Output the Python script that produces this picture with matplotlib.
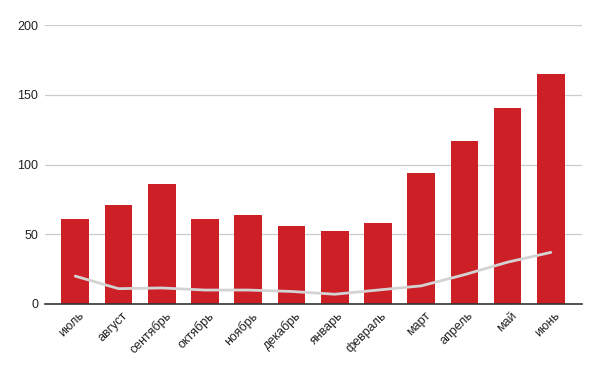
import matplotlib
matplotlib.use('Agg')
import numpy as np
import matplotlib.pyplot as plt
import matplotlib.transforms as mtransforms

plt.rcParams['font.family'] = ['Liberation Sans', 'DejaVu Sans']

MONTHS = ['июль', 'август', 'сентябрь', 'октябрь', 'ноябрь', 'декабрь',
          'январь', 'февраль', 'март', 'апрель', 'май', 'июнь']
BARS = [61, 71, 86, 61, 64, 56, 52, 58, 94, 117, 140.5, 165]
LINE = [20, 11, 11.5, 10, 10, 9, 7, 10, 13, 21, 30, 37]

BAR_COLOR = '#CD1F26'
LINE_COLOR = '#D3D3D3'
GRID_COLOR = '#CCCCCC'
TEXT_COLOR = '#222222'

fig = plt.figure(figsize=(6, 3.71), dpi=100, facecolor='white')
ax = fig.add_axes([0.075, 0.1806, 0.895, 0.752])

x = np.arange(len(MONTHS))
ax.bar(x, BARS, width=0.64, color=BAR_COLOR, zorder=2)
ax.plot(x, LINE, color=LINE_COLOR, lw=2, zorder=3, solid_capstyle='round')

ax.set_xlim(-0.7, 11.72)
ax.set_ylim(0, 200)
ax.set_yticks([0, 50, 100, 150, 200])
ax.yaxis.grid(True, color=GRID_COLOR, lw=0.9, zorder=0)
ax.set_axisbelow(True)

for s in ['top', 'right', 'left']:
    ax.spines[s].set_visible(False)
ax.spines['bottom'].set_color('#333333')
ax.spines['bottom'].set_linewidth(1.2)
ax.spines['bottom'].set_zorder(4)

ax.tick_params(axis='y', length=0, pad=5, labelsize=9, labelcolor=TEXT_COLOR)
ax.tick_params(axis='x', length=0, pad=4, labelsize=9, labelcolor=TEXT_COLOR)
ax.set_xticks(x)
ax.set_xticklabels(MONTHS, rotation=45, ha='right', rotation_mode='anchor')

# nudge the rotated labels a touch to the right, like the original
offset = mtransforms.ScaledTranslation(3 / 100, 0, fig.dpi_scale_trans)
for lbl in ax.get_xticklabels():
    lbl.set_transform(lbl.get_transform() + offset)

fig.savefig('out.png', dpi=100, facecolor='white')
